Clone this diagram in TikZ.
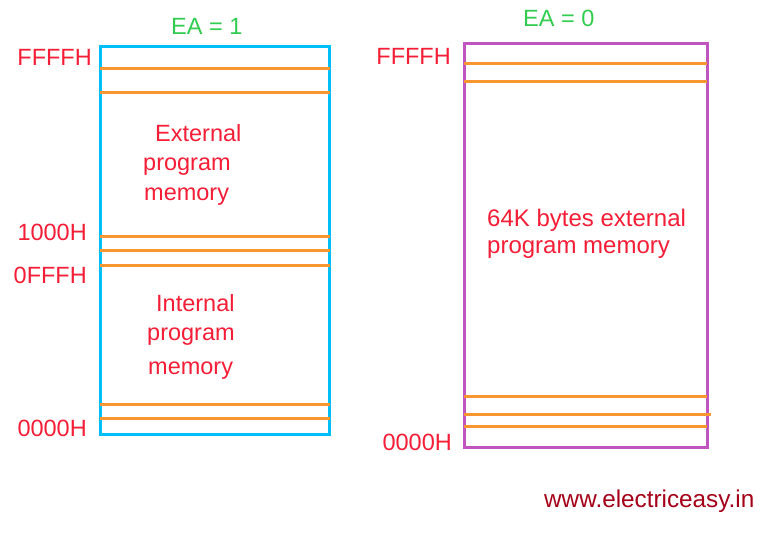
\documentclass[tikz,border=0pt]{standalone}
\usepackage{fontspec}
\setmainfont{Liberation Sans}
\definecolor{boxcyan}{RGB}{0,190,250}
\definecolor{boxmag}{RGB}{192,85,192}
\definecolor{lineor}{RGB}{250,150,50}
\definecolor{txtred}{RGB}{245,30,55}
\definecolor{txtgreen}{RGB}{50,205,80}
\definecolor{txtdark}{RGB}{165,0,25}
\begin{document}
\begin{tikzpicture}[x=1pt,y=-1pt,
  lbl/.style={inner sep=0pt,font=\fontsize{23.5}{26}\selectfont,text=txtred},
  hdr/.style={inner sep=0pt,font=\fontsize{23.5}{26}\selectfont,text=txtgreen},
  sep/.style={draw=lineor,line width=3pt},
  memL/.style={draw=boxcyan,line width=3pt},
  memR/.style={draw=boxmag,line width=3pt}]
\useasboundingbox (0,0) rectangle (772,539);
\fill[white] (0,0) rectangle (772,539);
% left box
\draw[memL] (100,46) rectangle (329,434);
\foreach \yy in {68,92,236,250,265,404,418}
  \draw[sep] (100,\yy) -- (330,\yy);
% right box
\draw[memR] (464,43) rectangle (707,447);
\foreach \yy in {63,81,396,426}
  \draw[sep] (464,\yy) -- (707,\yy);
\draw[sep] (464,414) -- (711,414);
% headers
\node[hdr,anchor=base west] (ea1) at (171,34) {EA = 1};
\node[hdr,anchor=base west] (ea0) at (523,26.5) {EA = 0};
% left labels
\node[lbl,anchor=base east] (lf) at (92,65) {FFFFH};
\node[lbl,anchor=base east] (l1000) at (87,240) {1000H};
\node[lbl,anchor=base east] (l0fff) at (87,283) {0FFFH};
\node[lbl,anchor=base east] (l0000) at (87,436) {0000H};
\node[lbl,anchor=base west] (ext1) at (155,141.5) {External};
\node[lbl,anchor=base west] (ext2) at (143,170) {program};
\node[lbl,anchor=base west] (ext3) at (144,200) {memory};
\node[lbl,anchor=base west] (int1) at (156,311.5) {Internal};
\node[lbl,anchor=base west] (int2) at (147,340) {program};
\node[lbl,anchor=base west] (int3) at (148,374) {memory};
% right labels
\node[lbl,anchor=base east] (rf) at (451,64) {FFFFH};
\node[lbl,anchor=base east] (r0000) at (452,450) {0000H};
\node[lbl,anchor=base west,font=\fontsize{24}{26}\selectfont] (r1) at (487,226) {64K bytes external};
\node[lbl,anchor=base west,font=\fontsize{24}{26}\selectfont] (r2) at (487,253) {program memory};
% footer
\node[inner sep=0pt,font=\fontsize{24.3}{26}\selectfont,text=txtdark,anchor=base west] (web) at (544,507) {www.electriceasy.in};
\end{tikzpicture}
\end{document}
